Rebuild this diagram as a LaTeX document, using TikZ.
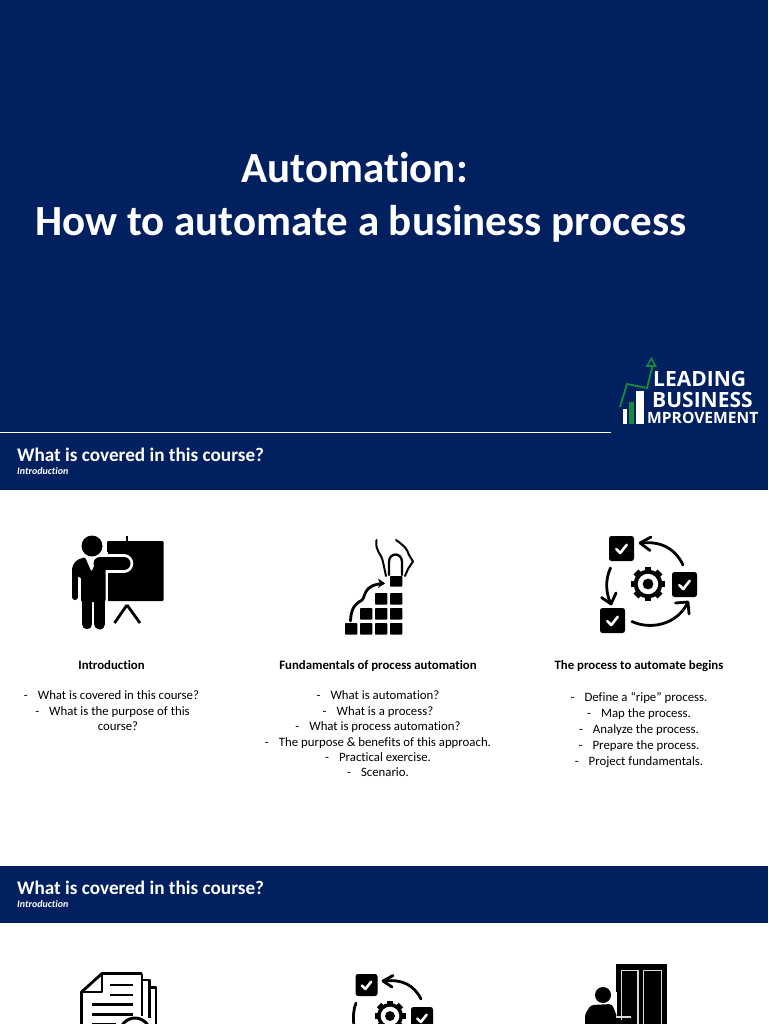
\documentclass[tikz,border=0pt]{standalone}
\usepackage{fontspec}
\setmainfont[Ligatures=NoCommon]{Carlito}
\newfontfamily\logofont{Open Sans}
\definecolor{navy}{HTML}{002060}
\definecolor{logogreen}{HTML}{138A3C}
\newcommand{\fz}[1]{\fontsize{#1}{#1}\selectfont}
\tikzset{
  titletext/.style={text=white,font=\fz{43}\bfseries,anchor=mid west,inner sep=0},
  headtext/.style={text=white,font=\fz{19.2}\bfseries,anchor=mid west,inner sep=0},
  subtext/.style={text=white,font=\fz{10}\bfseries\itshape,anchor=mid west,inner sep=0},
  coltitle/.style={font=\fz{12.8}\bfseries,anchor=mid,inner sep=0},
  coltext/.style={font=\fz{12.8},anchor=mid,inner sep=0},
  logotext/.style={text=white,anchor=mid west,inner sep=0},
  iconarrow/.style={line width=2.8pt,line cap=round,line join=round,draw=black},
}
% check box: centre x, centre y, half size
\newcommand{\chkbox}[3]{%
  \fill[black,rounded corners=2.5pt] (#1-#3,#2-#3) rectangle (#1+#3,#2+#3);
  \draw[white,line width=2.6pt,line cap=round,line join=round] (#1-0.42*#3,#2+0.05*#3) -- (#1-0.1*#3,#2+0.36*#3) -- (#1+0.42*#3,#2-0.3*#3);
}
% gear: centre x, centre y, outer radius
\newcommand{\gearicon}[3]{%
  \foreach \a in {0,45,...,315}{\fill[black,rotate around={\a:(#1,#2)}] (#1-0.2*#3,#2-#3) rectangle (#1+0.2*#3,#2-0.7*#3);}
  \fill[black] (#1,#2) circle ({0.84*#3});
  \fill[white] (#1,#2) circle ({0.6*#3});
  \fill[black] (#1,#2) circle ({0.32*#3});
}
\begin{document}
\begin{tikzpicture}[x=1pt,y=-1pt]
\useasboundingbox (0,0) rectangle (768,1024);
\clip (0,0) rectangle (768,1024);
\fill[white] (0,0) rectangle (768,1024);
\fill[navy] (0,0) rectangle (768,490);
\fill[navy] (0,866) rectangle (768,923);
\coordinate (ruleL) at (0,432.5);
\coordinate (ruleR) at (611,432.5);
\draw[white,line width=1pt] (ruleL) -- (ruleR);

\node[titletext] (title1) at (241.5,180.5) {Automation:};
\node[titletext] (title2) at (35,233) {How to automate a business process};

% logo
\fill[white] (622.5,408.5) rectangle (626.5,423.5);
\fill[logogreen] (628.5,402) rectangle (633.5,423.5);
\fill[white] (636,391) rectangle (643.5,423.5);
\draw[logogreen,line width=1.8pt,line join=miter] (620,407) -- (627,384) -- (647,388) -- (652.5,366);
\draw[logogreen,line width=1.6pt,line join=miter] (651.5,358.5) -- (647,366) -- (655.5,366) -- cycle;
\node[logotext,font=\logofont\fz{21}\bfseries] (logo1) at (653,384) {LEADING};
\node[logotext,font=\logofont\fz{21}\bfseries] (logo2) at (652,405.5) {BUSINESS};
\node[logotext,font=\logofont\fz{15.6}\bfseries] (logo3) at (647,421.5) {MPROVEMENT};

% header 1
\node[headtext] (head1) at (17,459) {What is covered in this course?};
\node[subtext] (sub1) at (17,472) {Introduction};

% column 1
\node[coltitle] (c1t) at (111.5,667) {Introduction};
\node[coltext] (c1a) at (111.5,697.5) {-\hspace{10pt}What is covered in this course?};
\node[coltext] (c1b) at (112.5,713) {-\hspace{10pt}What is the purpose of this};
\node[coltext] (c1c) at (118,728.5) {course?};

% column 2
\node[coltitle] (c2t) at (378,667) {Fundamentals of process automation};
\node[coltext] (c2a) at (378,697.5) {-\hspace{10pt}What is automation?};
\node[coltext] (c2b) at (378,713) {-\hspace{10pt}What is a process?};
\node[coltext] (c2c) at (378,728.5) {-\hspace{10pt}What is process automation?};
\node[coltext] (c2d) at (378,744) {-\hspace{10pt}The purpose \& benefits of this approach.};
\node[coltext] (c2e) at (378,759.5) {-\hspace{10pt}Practical exercise.};
\node[coltext] (c2f) at (378,774.5) {-\hspace{10pt}Scenario.};

% column 3
\node[coltitle] (c3t) at (639,667) {The process to automate begins};
\node[coltext] (c3a) at (639,699.5) {-\hspace{10pt}Define a “ripe” process.};
\node[coltext] (c3b) at (639,715.5) {-\hspace{10pt}Map the process.};
\node[coltext] (c3c) at (639,731.5) {-\hspace{10pt}Analyze the process.};
\node[coltext] (c3d) at (639,747.5) {-\hspace{10pt}Prepare the process.};
\node[coltext] (c3e) at (639,763.5) {-\hspace{10pt}Project fundamentals.};

% header 2
\node[headtext] (head2) at (17,892) {What is covered in this course?};
\node[subtext] (sub2) at (17,905) {Introduction};

% icon 1: presenter
\draw[black,line width=2pt] (127,536) -- (127,542);
\fill[black,rounded corners=1pt] (107,541) rectangle (163.5,601);
\draw[black,line width=2.8pt] (127,605) -- (114.5,623);
\draw[black,line width=2.8pt] (127,605) -- (140,623);
\fill[white] (102,552) rectangle (108,606);
\draw[white,line width=18.5pt,line cap=round] (100,563.5) -- (124,563.5);
\fill[black] (92,546) circle (10.5);
\draw[black,line width=13pt,line cap=round] (100,563.5) -- (124,563.5);
\fill[black,rounded corners=2pt] (72,577) -- (72,567) -- (76,560.5) -- (85,557) -- (91.5,572) -- (98,557) -- (105.5,557) -- (105.5,602) -- (81,602) -- (81,577) -- cycle;
\draw[black,line width=10.5pt,line cap=round] (87,598) -- (87,624);
\draw[black,line width=11pt,line cap=round] (99.8,598) -- (99.8,624);
\draw[black,line width=6pt,line cap=round] (75,570) -- (75,597);

% icon 2: stacked blocks
\foreach \cx/\cy in {345/623,360/623,375/623,390/623,360/608,375/608,390/608,375/593,390/593}{
  \fill[black,rounded corners=0.8pt] (\cx,\cy) rectangle ++(12.3,11.7);
}
\fill[black,rounded corners=0.8pt] (390,576) rectangle (402.3,586.7);
\draw[black,line width=2.8pt,line cap=round] (350.5,621) .. controls (351,605) and (358,603) .. (362,600) .. controls (366,596) and (363,585) .. (383,583.5);
\fill[black] (385,583.3) -- (378,578.5) -- (380,583.5) -- (378,588) -- cycle;
\draw[black,line width=2pt,line cap=round,line join=round] (376.5,540) .. controls (375,552) and (381,552) .. (383,562) -- (386,576);
\draw[black,line width=2.3pt,line cap=round] (389,575) -- (389,562) .. controls (389,552) and (402,552) .. (402,562) -- (402,575);
\draw[black,line width=2pt,line cap=round,line join=round] (396,540) .. controls (403,545) and (407,548) .. (409,555) -- (413,561.5) -- (408,569) -- (405,576);

% icon 3: process cycle
\chkbox{621.5}{548.5}{12.5}
\chkbox{684.5}{584.5}{12.5}
\chkbox{612.5}{620.5}{12.5}
\gearicon{648}{584}{17}
\draw[iconarrow] (683,565) .. controls (675,548) and (660,541) .. (642,543);
\draw[iconarrow] (651,537) -- (640,543) -- (650,550.5);
\draw[iconarrow] (610.5,568) .. controls (605,580) and (606,592) .. (610,602);
\draw[iconarrow] (601.5,597.5) -- (611,604) -- (616,593);
\draw[iconarrow] (632,621.5) .. controls (650,630) and (676,625) .. (687,604);
\draw[iconarrow] (675.5,603) -- (688,602) -- (689,614);

% icon 4: documents
\draw[black,line width=2.8pt,line join=round] (142,973.5) -- (102,973.5) -- (81.5,992) -- (81.5,1030);
\draw[black,line width=2.8pt,line join=round] (142,973.5) -- (142,1016);
\draw[black,line width=2.8pt,line join=round] (102,973.5) -- (102,992) -- (81.5,992);
\draw[black,line width=2.6pt,line join=round] (143,980) -- (149.5,980) -- (149.5,1018);
\draw[black,line width=2.6pt,line join=round] (150,987.5) -- (156,987.5) -- (156,1024);
\foreach \xa/\xb/\yy in {110/132.5/985,110/132.5/995,92/132.5/1004.5,92/132.5/1014.5,92/116/1024}{
  \draw[black,line width=2.6pt] (\xa,\yy) -- (\xb,\yy);
}
\fill[white] (135,1033) circle (15);
\draw[black,line width=3pt] (135,1033) circle (15);

% icon 5: process cycle, cut off
\chkbox{366.5}{985}{11}
\chkbox{422}{1018}{11}
\gearicon{390}{1016}{15.5}
\draw[iconarrow] (421,999) .. controls (414,985) and (402,979) .. (385,981);
\draw[iconarrow] (393,975.5) -- (383,981) -- (392,987);
\draw[iconarrow] (356,1003) .. controls (353,1011) and (353,1018) .. (354,1026);

% icon 6: door and person
\fill[black] (616,964) rectangle (667,1030);
\draw[white!85!black,line width=1.3pt] (621.5,970.5) rectangle (638,1030);
\draw[white!85!black,line width=1.3pt] (643.5,970.5) rectangle (661.5,1030);
\fill[white] (612,992) rectangle (616.5,1030);
\fill[black] (603,995) circle (8);
\fill[black,rounded corners=3pt] (585,1030) -- (585,1014) -- (591,1005) -- (612,1004) -- (616,1014) -- (618,1020) -- (630,1020) -- (630,1030) -- cycle;
\fill[white!85!black] (616,1015.5) rectangle (631,1018);
\end{tikzpicture}
\end{document}
